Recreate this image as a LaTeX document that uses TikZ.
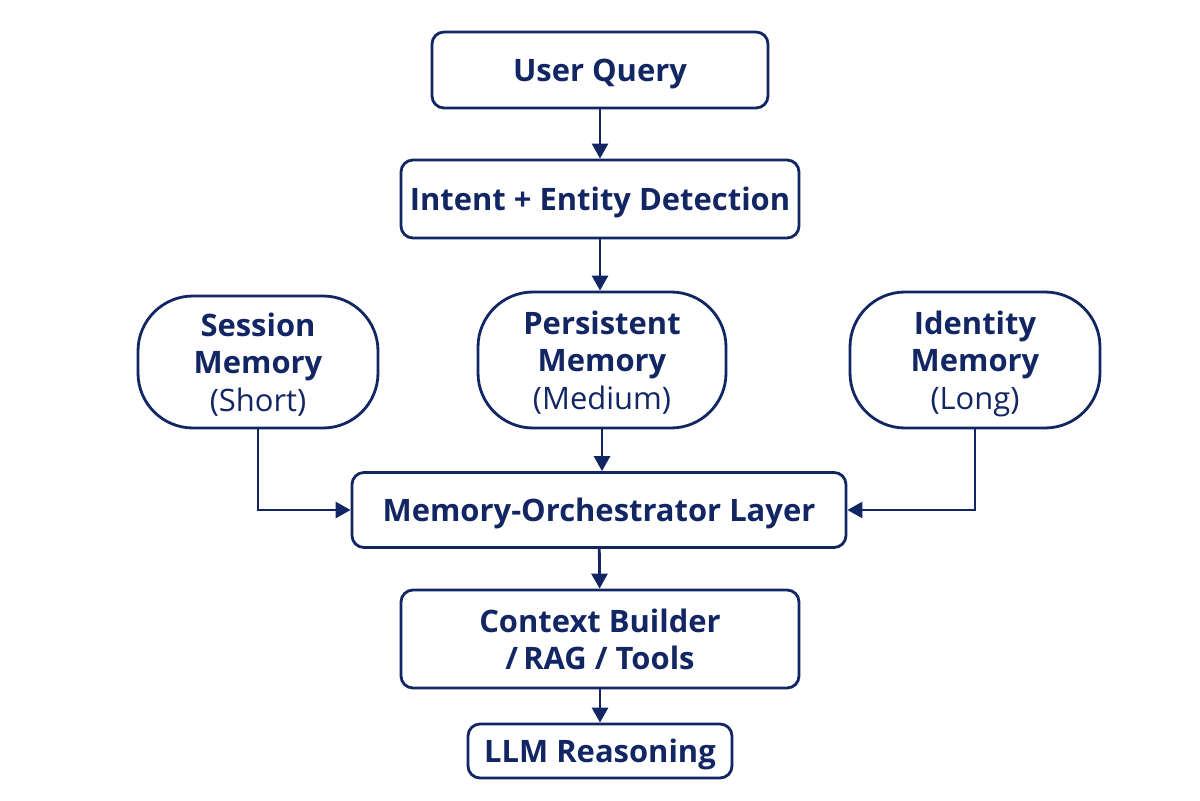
\documentclass[tikz,border=0pt]{standalone}
\usepackage{fontspec}
\setmainfont{Open Sans}
\usepackage{xcolor}
\usetikzlibrary{arrows.meta}
\definecolor{navy}{RGB}{18,38,100}
\tikzset{
  box/.style={draw=navy, line width=1.6pt, rounded corners=0.24cm, text=navy,
    align=center, inner sep=0pt, text depth=0pt,
    font=\fontsize{17.6}{21.2}\selectfont\bfseries},
  pill/.style={box, rounded corners=1.1cm},
  flow/.style={draw=navy, line width=1.6pt, -{Triangle[length=0.3cm,width=0.32cm]}}
}
\newcommand{\subtxt}[1]{{\mdseries #1}}
\begin{document}
\begin{tikzpicture}
\useasboundingbox (0,0) rectangle (24,-16);
\node[box, minimum width=6.72cm, minimum height=1.52cm] (query) at (12,-1.4) {User Query};
\node[box, minimum width=7.96cm, minimum height=1.56cm] (intent) at (12,-3.98) {Intent + Entity Detection};
% memory tiers
\node[pill, minimum width=4.8cm, minimum height=2.64cm] (session) at (5.16,-7.24) {Session\\Memory\\\subtxt{(Short)}};
\node[pill, minimum width=4.96cm, minimum height=2.72cm] (persist) at (12.04,-7.2) {Persistent\\Memory\\\subtxt{(Medium)}};
\node[pill, minimum width=5cm, minimum height=2.72cm] (identity) at (19.5,-7.2) {Identity\\Memory\\\subtxt{(Long)}};
\node[box, minimum width=9.88cm, minimum height=1.5cm] (orch) at (11.98,-10.2) {Memory-Orchestrator Layer};
\node[box, minimum width=7.96cm, minimum height=1.96cm] (context) at (12,-12.78) {Context Builder\\/\,RAG / Tools};
\node[box, minimum width=5.28cm, minimum height=1.08cm] (llm) at (12,-15.02) {LLM Reasoning};
% arrows
\draw[flow] (query) -- (intent);
\draw[flow] (intent.south) -- (intent.south |- persist.north);
\draw[flow] (persist.south) -- (persist.south |- orch.north);
\draw[flow] (session.south) |- (orch.west);
\draw[flow] (identity.south) |- (orch.east);
\draw[flow] (orch) -- (context);
\draw[flow] (context) -- (llm);
\end{tikzpicture}
\end{document}
